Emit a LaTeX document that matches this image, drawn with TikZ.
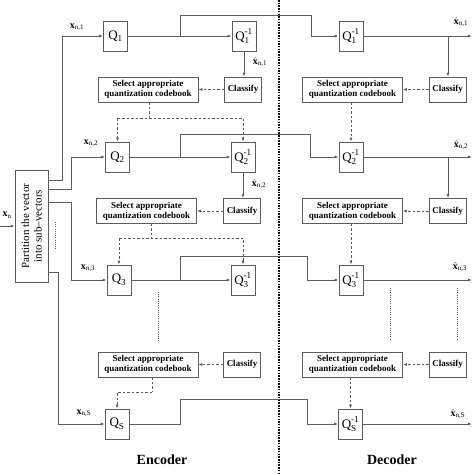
\documentclass[tikz,border=0pt]{standalone}
\usepackage{amsmath}
\usepackage{fontspec}
\setmainfont{Liberation Serif}
\usetikzlibrary{arrows.meta}
\definecolor{lc}{HTML}{5C5C5C}
\newcommand{\myq}[1]{$\text{Q}_{\text{#1}}$}
\newcommand{\myqi}[1]{$\text{Q}^{\text{-1}}_{\text{#1}}$}
\newcommand{\myxl}[1]{$\text{\textbf{x}}_{\text{n,#1}}$}
\newcommand{\myxh}[1]{$\hat{\text{\textbf{x}}}_{\text{n,#1}}$}
\begin{document}
\begin{tikzpicture}[x=1pt,y=-1pt,
  ln/.style={draw=lc, line width=0.8pt},
  conn/.style={ln, -{Latex[length=4pt,width=3pt]}},
  dsh/.style={ln, dash pattern=on 2.5pt off 2pt},
  dshconn/.style={dsh, -{Latex[length=4pt,width=3pt]}},
  dots/.style={ln, dash pattern=on 0.8pt off 1.4pt},
  qbox/.style={draw=lc, line width=0.8pt, minimum width=24pt, minimum height=30pt, inner sep=0pt, font=\fontsize{13}{14}\selectfont},
  selbox/.style={draw=lc, line width=0.8pt, minimum width=100pt, minimum height=25pt, inner sep=0pt, align=center, font=\bfseries\fontsize{9}{10}\selectfont},
  clsbox/.style={draw=lc, line width=0.8pt, minimum width=37pt, minimum height=25pt, inner sep=0pt, font=\bfseries\fontsize{9}{10}\selectfont},
  lab/.style={inner sep=0pt, font=\fontsize{10}{11}\selectfont},
  big/.style={inner sep=0pt, font=\bfseries\fontsize{14}{15}\selectfont}
]
\useasboundingbox (0,0) rectangle (474,474);

% partition (rotated: node south = right side, node north = left side)
\node[draw=lc, line width=0.8pt, rotate=90, minimum width=112pt, minimum height=33pt, inner sep=0pt, align=center, font=\fontsize{11}{12.5}\selectfont] (P) at (31.5,226) {Partition the vector\\into sub–vectors};
\coordinate (xin) at (0,226);
\node[lab] (lxn) at (7,215) {$\text{\textbf{x}}_{\text{n}}$};
\draw[conn] (xin) -- (P.north);

% encoder quantizers
\node[qbox] (Q1) at (115.5,36) {\myq{1}};
\node[qbox] (Q2) at (117.5,157) {\myq{2}};
\node[qbox] (Q3) at (119,280) {\myq{3}};
\node[qbox] (QS) at (117,424) {\myq{S}};
\node[qbox] (EQ1) at (244,36) {\myqi{1}};
\node[qbox] (EQ2) at (243,157) {\myqi{2}};
\node[qbox] (EQ3) at (243,280) {\myqi{3}};

\node[clsbox] (EC1) at (243,89.5) {Classify};
\node[clsbox] (EC2) at (242,211) {Classify};
\node[clsbox] (EC3) at (242,364.5) {Classify};
\node[selbox] (ES1) at (148,89.5) {Select appropriate\\quantization codebook};
\node[selbox] (ES2) at (146.5,211) {Select appropriate\\quantization codebook};
\node[selbox] (ES3) at (148,364.5) {Select appropriate\\quantization codebook};

% decoder
\node[qbox] (DQ1) at (351,36) {\myqi{1}};
\node[qbox] (DQ2) at (351,157) {\myqi{2}};
\node[qbox] (DQ3) at (351,280) {\myqi{3}};
\node[qbox] (DQS) at (350.5,424) {\myqi{S}};
\node[selbox] (DS1) at (352.5,89.5) {Select appropriate\\quantization codebook};
\node[selbox] (DS2) at (352.5,211) {Select appropriate\\quantization codebook};
\node[selbox] (DS3) at (352.5,364.5) {Select appropriate\\quantization codebook};
\node[clsbox] (DC1) at (447.5,89.5) {Classify};
\node[clsbox] (DC2) at (447.5,211) {Classify};
\node[clsbox] (DC3) at (447.5,364.5) {Classify};

% labels
\node[lab] (l1) at (77,27) {\myxl{1}};
\node[lab] (l2) at (91,143) {\myxl{2}};
\node[lab] (l3) at (88,268) {\myxl{3}};
\node[lab] (lS) at (84,413) {\myxl{S}};
\node[lab] (h1) at (260,62) {\myxh{1}};
\node[lab] (h2) at (259,184) {\myxh{2}};
\node[lab] (d1) at (461,22) {\myxh{1}};
\node[lab] (d2) at (461,145) {\myxh{2}};
\node[lab] (d3) at (460,267) {\myxh{3}};
\node[lab] (dS) at (458,414) {\myxh{S}};
\node[big] (enc) at (162,460) {Encoder};
\node[big] (dec) at (392,460) {Decoder};

% partition outputs
\draw[conn] (P.south |- 0,180) -| (62,0 |- Q1.west) -- (Q1.west);
\draw[conn] (P.south |- 0,189) -| (71,0 |- Q2.west) -- (Q2.west);
\draw[conn] (P.south |- 0,202) -| (71,0 |- Q3.west) -- (Q3.west);
\draw[conn] (P.south |- 0,272) -| (58,0 |- QS.west) -- (QS.west);
\draw[dots] (55,222) -- (55,250);

% quantizer to inverse
\draw[conn] (Q1.east) -- (EQ1.west);
\draw[conn] (180,0 |- Q1.east) |- (311,15) |- (DQ1.west);
\draw[conn] (Q2.east) -- (EQ2.west);
\draw[conn] (180,0 |- Q2.east) |- (310,134) |- (DQ2.west);
\draw[conn] (Q3.east) -- (EQ3.west);
\draw[conn] (180,0 |- Q3.east) |- (307,256) |- (DQ3.west);
\draw[conn] (QS.east) -| (180,399) -| (307,0 |- DQS.west) -- (DQS.west);

% encoder feedback
\draw[conn] (EQ1.south) -- (EQ1.south |- EC1.north);
\draw[conn] (EQ2.south) -- (EQ2.south |- EC2.north);
\draw[dshconn] (EC1.west) -- (ES1.east);
\draw[dshconn] (EC2.west) -- (ES2.east);
\draw[dshconn] (EC3.west) -- (ES3.east);
\draw[dsh] (149,0 |- ES1.south) -- (149,118);
\draw[dshconn] (Q2.north |- 0,118) -| (EQ2.north);
\draw[dshconn] (Q2.north |- 0,118) -- (Q2.north);
\draw[dsh] (151,0 |- ES2.south) -- (151,238);
\draw[dshconn] (Q3.north |- 0,238) -| (EQ3.north);
\draw[dshconn] (Q3.north |- 0,238) -- (Q3.north);
\draw[dsh] (152,0 |- ES3.south) -- (152,392);
\draw[dshconn] (152,392) -| (QS.north);
\draw[dots] (158,292) -- (158,342);

% decoder connections
\draw[conn] (DQ1.east) -- (472,36);
\draw[conn] (DQ2.east) -- (472,157);
\draw[conn] (DQ3.east) -- (472,280);
\draw[conn] (DQS.east) -- (472,424);
\draw[conn] (448,0 |- DQ1.east) -- (448,0 |- DC1.north);
\draw[conn] (448,0 |- DQ2.east) -- (448,0 |- DC2.north);
\draw[dshconn] (DC1.west) -- (DS1.east);
\draw[dshconn] (DC2.west) -- (DS2.east);
\draw[dshconn] (DC3.west) -- (DS3.east);
\draw[dshconn] (DQ2.north |- DS1.south) -- (DQ2.north);
\draw[dshconn] (DQ3.north |- DS2.south) -- (DQ3.north);
\draw[dshconn] (DQS.north |- DS3.south) -- (DQS.north);
\draw[dots] (390,288) -- (390,340);
\draw[dots] (457,288) -- (457,340);

% divider
\draw[line width=1.8pt, dash pattern=on 1.5pt off 1.2pt] (279,0) -- (279,474);
\end{tikzpicture}
\end{document}
